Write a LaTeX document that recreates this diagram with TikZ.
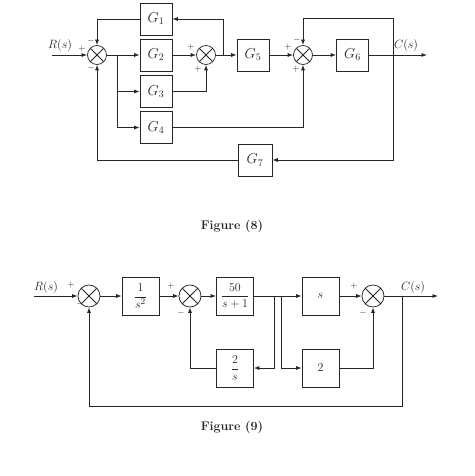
\documentclass[tikz,border=0pt]{standalone}
\usetikzlibrary{arrows.meta}
\begin{document}
\begin{tikzpicture}[x=1pt, y=-1pt, line width=0.75pt, color=black!85,
  >={Latex[length=5.5pt,width=4pt]},
  block/.style={draw, minimum width=32pt, minimum height=32pt, inner sep=0pt, font=\fontsize{14}{16}\selectfont},
  bigblock/.style={draw, minimum width=37pt, minimum height=38pt, inner sep=0pt, font=\fontsize{13}{15}\selectfont},
  sumj/.style={draw, circle, minimum size=19pt, inner sep=0pt,
    path picture={\draw (path picture bounding box.north west) -- (path picture bounding box.south east)
      (path picture bounding box.north east) -- (path picture bounding box.south west);}},
  bigsum/.style={sumj, minimum size=22pt},
  sgn/.style={font=\small, inner sep=0pt},
  sig/.style={font=\fontsize{13}{15}\selectfont, inner sep=0pt},
  caption/.style={font=\fontsize{12.5}{15}\selectfont\bfseries}]
\useasboundingbox (0,0) rectangle (474,476);
% Figure (8)
\node[sumj] (s1) at (97,55) {};
\node[block] (g1) at (156,19) {$G_1$};
\node[block] (g2) at (156,55) {$G_2$};
\node[block] (g3) at (156,91.5) {$G_3$};
\node[block] (g4) at (156,127.5) {$G_4$};
\node[sumj] (s2) at (206,55) {};
\node[block] (g5) at (253,55) {$G_5$};
\node[sumj] (s3) at (303,55) {};
\node[block] (g6) at (352.5,55) {$G_6$};
\node[block, minimum width=34pt] (g7) at (255,160) {$G_7$};
\coordinate (in8) at (52,55);
\coordinate (b1) at (117,55);
\coordinate (b2) at (223,55);
\coordinate (b3) at (393,55);
\coordinate (t8) at (393,18);
\coordinate (out8) at (427,55);
\draw[->] (in8) -- (s1);
\draw[->] (s1) -- (g2);
\draw[->] (b1) |- (g3);
\draw[->] (b1) |- (g4);
\draw[->] (g1) -| (s1);
\draw[->] (g2) -- (s2);
\draw[->] (g3) -| (s2);
\draw[->] (s2) -- (g5);
\draw[->] (b2) |- (g1);
\draw[->] (g5) -- (s3);
\draw[->] (s3) -- (g6);
\draw[->] (g6) -- (out8);
\draw[->] (b3) -- (t8) -| (s3);
\draw[->] (g4) -| (s3);
\draw[->] (b3) |- (g7);
\draw[->] (g7) -| (s1);
\node[sig] (r8) at (60,46) {$R(s)$};
\node[sig] (c8) at (406,46) {$C(s)$};
\node[sgn] at (82,49) {$+$};
\node[sgn] at (91,41) {$-$};
\node[sgn] at (91,68) {$-$};
\node[sgn] at (191,47) {$+$};
\node[sgn] at (198,69) {$+$};
\node[sgn] at (288,47) {$+$};
\node[sgn] at (297,40) {$-$};
\node[sgn] at (296,69) {$+$};
\node[caption] (f8) at (232,226) {Figure (8)};
% Figure (9)
\node[bigsum] (sa) at (89,296) {};
\node[bigblock] (h1) at (140.5,296) {$\displaystyle\frac{1}{s^2}$};
\node[bigsum] (sb) at (190,296) {};
\node[bigblock] (h2) at (235,296) {$\displaystyle\frac{50}{s+1}$};
\node[bigblock] (h3) at (235,368) {$\displaystyle\frac{2}{s}$};
\node[bigblock] (h4) at (320.5,296) {$s$};
\node[bigblock] (h5) at (320.5,368) {$2$};
\node[bigsum] (sc) at (373,296) {};
\coordinate (in9) at (34,296);
\coordinate (c1) at (274,296);
\coordinate (c2) at (281,296);
\coordinate (c3) at (402,296);
\coordinate (bt9) at (402,406);
\coordinate (out9) at (438,296);
\draw[->] (in9) -- (sa);
\draw[->] (sa) -- (h1);
\draw[->] (h1) -- (sb);
\draw[->] (sb) -- (h2);
\draw[->] (h2) -- (h4);
\draw[->] (c1) |- (h3);
\draw[->] (c2) |- (h5);
\draw[->] (h3) -| (sb);
\draw[->] (h4) -- (sc);
\draw[->] (h5) -| (sc);
\draw[->] (sc) -- (out9);
\draw[->] (c3) -- (bt9) -| (sa);
\node[sig] (r9) at (46,287) {$R(s)$};
\node[sig] (c9) at (413,287) {$C(s)$};
\node[sgn] at (71,285) {$+$};
\node[sgn] at (80,304) {$-$};
\node[sgn] at (171,286) {$+$};
\node[sgn] at (181,313) {$-$};
\node[sgn] at (354,286) {$+$};
\node[sgn] at (363,313) {$-$};
\node[caption] (f9) at (232,427) {Figure (9)};
\end{tikzpicture}
\end{document}
